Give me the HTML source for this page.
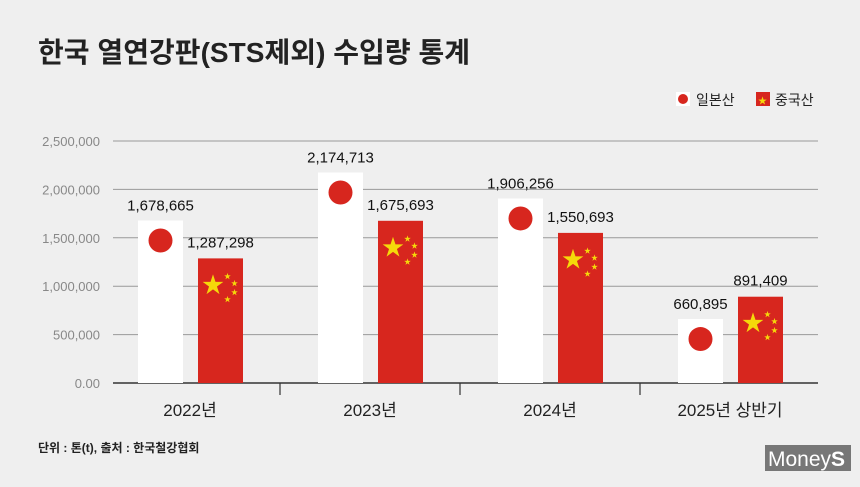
<!DOCTYPE html>
<html><head><meta charset="utf-8"><style>
body{margin:0;width:860px;height:482px;background:#efefef;overflow:hidden;font-family:"Liberation Sans","Noto Sans CJK KR",sans-serif}
</style></head><body>
<svg width="860" height="482" id="c" style="font-family:'Liberation Sans','Noto Sans CJK KR',sans-serif">
<text x="38" y="62" font-size="28" font-weight="bold" fill="#222" textLength="432">한국 열연강판(STS제외) 수입량 통계</text>
<g>
<g><rect x="676" y="92" width="14" height="14" fill="#fff"/><circle cx="683" cy="99" r="5" fill="#d7261e"/><text x="696" y="105" font-size="14" fill="#222">일본산</text></g>
<g><rect x="756" y="92" width="14" height="14" fill="#d7261e"/><text x="758" y="104" font-size="9" fill="#f5d90a">★</text><text x="775" y="105" font-size="14" fill="#222">중국산</text></g>
</g>
<g id="grid"></g><g id="bars"></g>
<text x="38" y="452" font-size="12" font-weight="bold" fill="#222">단위 : 톤(t),  출처 : 한국철강협회</text>
<g><rect x="765" y="445" width="86" height="26" fill="#777"/><text x="768" y="466" font-size="21" fill="#fff">Money<tspan font-weight="bold">S</tspan></text></g>
</svg>
<script>
const categories=["2022년","2023년","2024년","2025년 상반기"];
const japan=[1678665,2174713,1906256,660895];
const china=[1287298,1675693,1550693,891409];
const ticks=[0,500000,1000000,1500000,2000000,2500000];
const tickLabels=["0.00","500,000","1,000,000","1,500,000","2,000,000","2,500,000"];
const NS="http://www.w3.org/2000/svg";
const y0=383,yTop=141,max=2500000;
const y=v=>y0-(v/max)*(y0-yTop);
const gx0=100,gw=180;
const cx=i=>gx0+gw*i+gw/2;
function mk(t,a,p){const e=document.createElementNS(NS,t);for(const k in a)e.setAttribute(k,a[k]);(p||document.getElementById('bars')).appendChild(e);return e;}
const g=document.getElementById('grid');
ticks.forEach((t,i)=>{
  if(i>0){const l=mk('line',{x1:113,x2:818,y1:y(t),y2:y(t),stroke:'#999','stroke-width':1},g);
  
  }
  const tx=mk('text',{x:100,y:y(t)+5,'text-anchor':'end','font-size':13,fill:'#888'},g);tx.textContent=tickLabels[i];
  
  
});
const ax=mk('line',{x1:113,x2:818,y1:y0,y2:y0,stroke:'#333','stroke-width':1.5},g);


[1,2,3].forEach(i=>{const t=mk('line',{x1:gx0+gw*i,x2:gx0+gw*i,y1:y0,y2:y0+12,stroke:'#333','stroke-width':1.2},g);

});
function fmt(v){return v.toLocaleString('en-US');}
categories.forEach((c,i)=>{
  const xc=cx(i);
  const jx=xc-52,chx=xc+8,w=45;
  const jb=mk('rect',{x:jx,y:y(japan[i]),width:w,height:y0-y(japan[i]),fill:'#fff'});
  
  
  mk('circle',{cx:jx+w/2,cy:y(japan[i])+Math.min(20,(y0-y(japan[i]))/2),r:12,fill:'#d7261e'});
  const cb=mk('rect',{x:chx,y:y(china[i]),width:w,height:y0-y(china[i]),fill:'#d7261e'});
  
  
  const sy=y(china[i])+34;
  const st=mk('text',{x:chx+4,y:sy,'font-size':22,fill:'#f5d90a'});st.textContent='★';
  [[26,-14],[33,-7],[33,2],[26,9]].forEach(([a,b])=>{const s=mk('text',{x:chx+a,y:sy+b,'font-size':7,fill:'#f5d90a'});s.textContent='★';});
  const jl=mk('text',{x:jx+w/2,y:y(japan[i])-10,'text-anchor':'middle','font-size':15,fill:'#111'});jl.textContent=fmt(japan[i]);
  
  
  const cl=mk('text',{x:chx+w/2,y:y(china[i])-11,'text-anchor':'middle','font-size':15,fill:'#111'});cl.textContent=fmt(china[i]);
  
  
  const xl=mk('text',{x:xc,y:416,'text-anchor':'middle','font-size':17,fill:'#222'});xl.textContent=c;
  
  
});
</script>
</body></html>
